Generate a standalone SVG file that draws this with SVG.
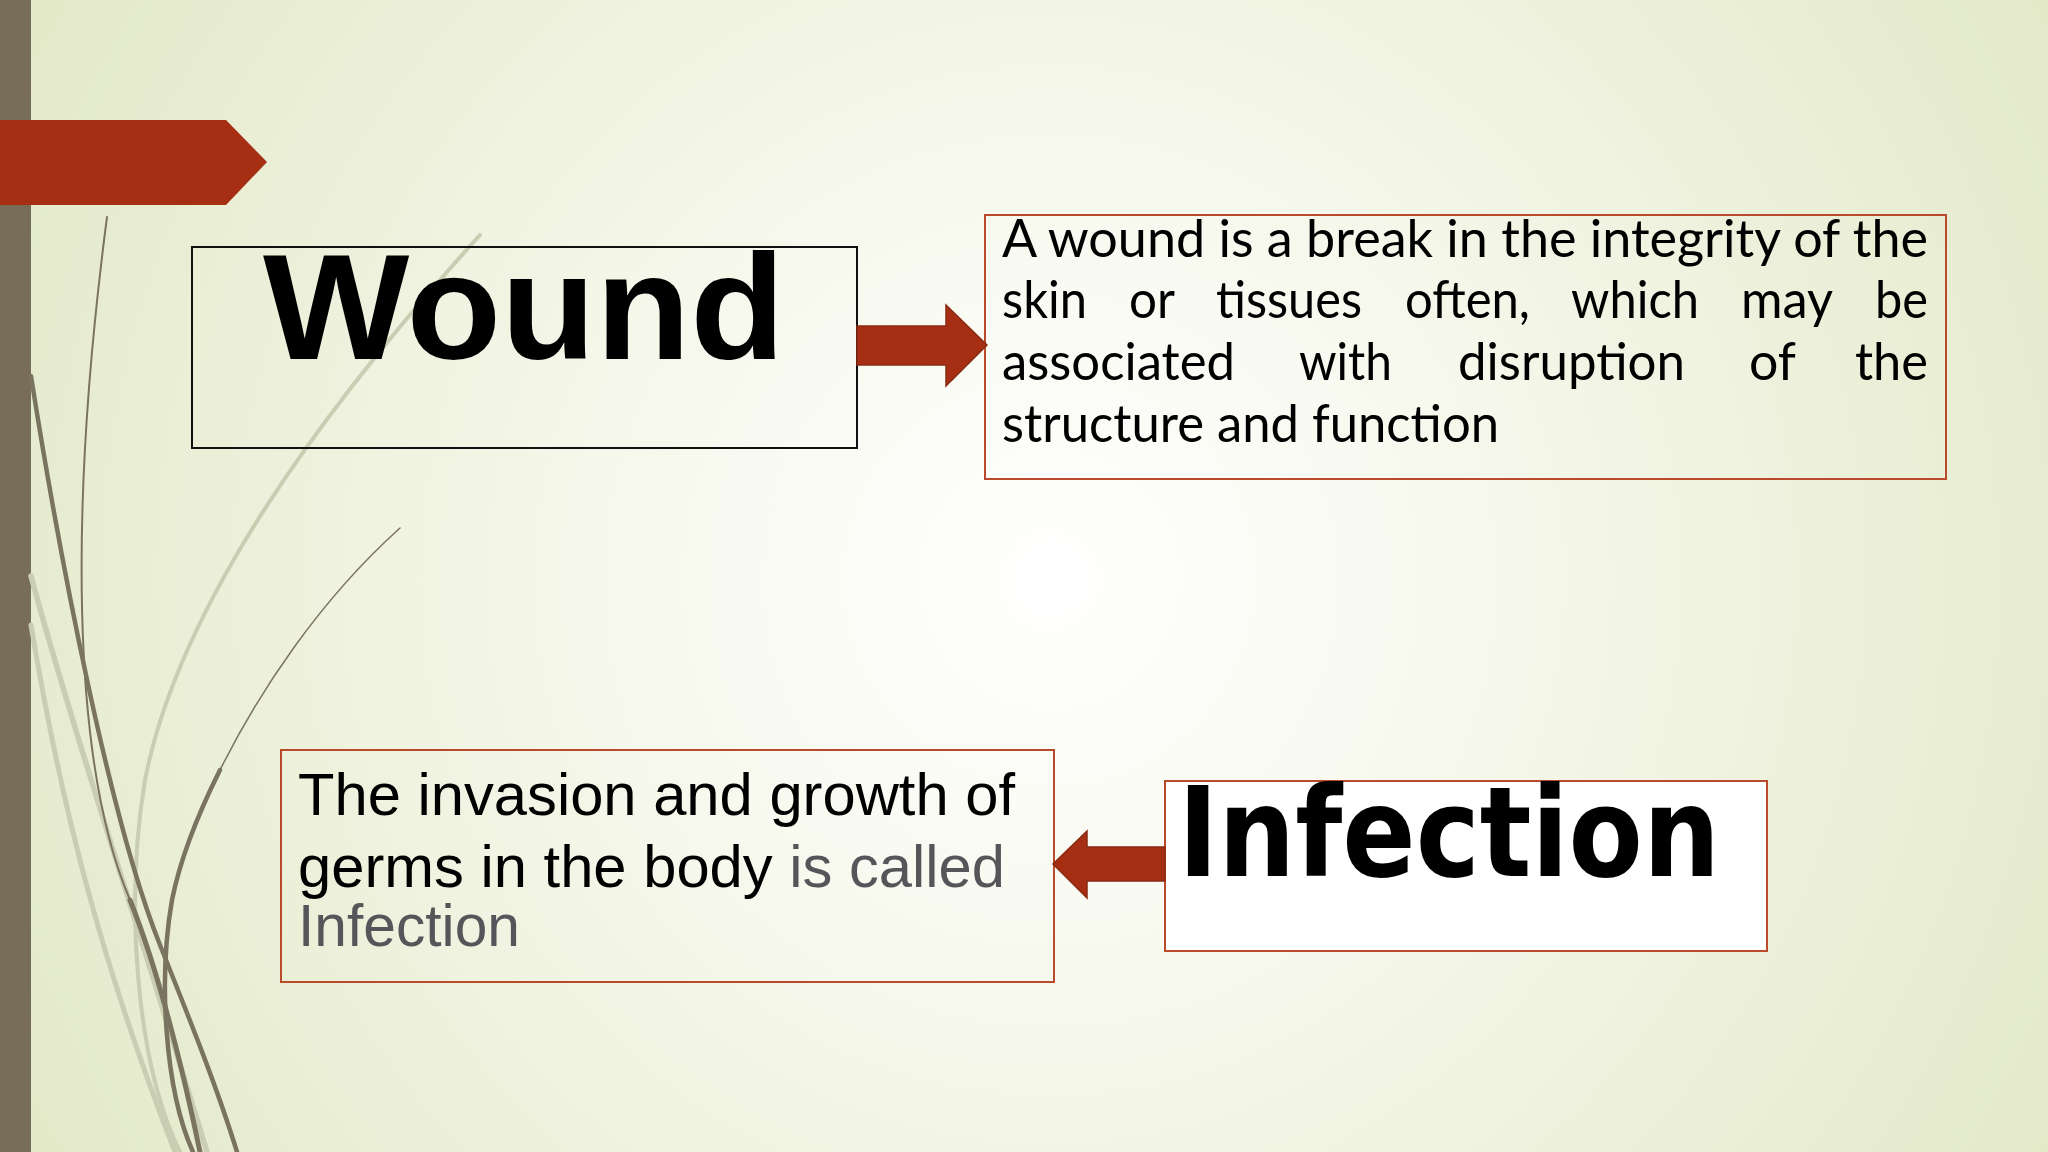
<svg xmlns="http://www.w3.org/2000/svg" width="2048" height="1152" viewBox="0 0 2048 1152">
<defs>
<radialGradient id="bg" gradientUnits="userSpaceOnUse" cx="1050" cy="580" r="1250">
<stop offset="0" stop-color="#ffffff"/>
<stop offset="0.35" stop-color="#f6f8ec"/>
<stop offset="1" stop-color="#e0e7c4"/>
</radialGradient>
<style>
.dark{fill:none;stroke:#7a7360;stroke-linecap:round}
.light{fill:none;stroke:#c9cdb2;stroke-linecap:round}
.arrow{fill:#a52e13;stroke:#8a2a12;stroke-width:1.5}
.rbox{fill:none;stroke:#b94a2b;stroke-width:2}
.def{font-family:Lato,"Liberation Sans",sans-serif;font-size:52px;fill:#000}
.body{font-family:"Liberation Sans",Arial,sans-serif;font-size:59px;fill:#000}
.gray{fill:#56555a}
</style>
</defs>
<rect width="2048" height="1152" fill="url(#bg)"/>
<rect x="0" y="0" width="31" height="1152" fill="#776d59"/>
<g id="decor">
<path class="light" stroke-width="4" d="M480,235 C330,400 180,600 145,780 C125,900 135,1060 180,1152"/>
<path class="light" stroke-width="5.5" d="M31,576 C70,720 130,900 207,1152"/>
<path class="light" stroke-width="5" d="M31,625 C60,800 100,960 175,1152"/>
<path class="dark" stroke-width="2" d="M107,217 C70,500 70,760 130,900"/>
<path class="dark" stroke-width="5" d="M130,900 C160,975 185,1080 200,1152"/>
<path class="dark" stroke-width="4.5" d="M31,376 C60,560 110,820 160,945 C190,1020 218,1090 237,1152"/>
<path class="dark" stroke-width="1.5" d="M400,528 C320,600 260,690 220,770"/>
<path class="dark" stroke-width="4.5" d="M220,770 C195,820 180,860 172,900 C158,980 165,1090 193,1152"/>
</g>
<polygon fill="#a52e13" points="0,120 226,120 267,162 226,205 0,205"/>
<g id="wound">
<rect x="192" y="247" width="665" height="201" fill="none" stroke="#111" stroke-width="2"/>
<text x="263" y="359" font-family="'Liberation Sans',Arial,sans-serif" font-weight="bold" font-size="151" textLength="522" lengthAdjust="spacingAndGlyphs">Wound</text>
</g>
<g id="definition">
<rect class="rbox" x="985" y="215" width="961" height="264"/>
<text class="def" x="1002" y="257" textLength="926" lengthAdjust="spacingAndGlyphs">A wound is a break in the integrity of the</text>
<text class="def" y="318"><tspan x="1002" textLength="85" lengthAdjust="spacingAndGlyphs">skin</tspan><tspan x="1129" textLength="46" lengthAdjust="spacingAndGlyphs">or</tspan><tspan x="1216" textLength="146" lengthAdjust="spacingAndGlyphs">tissues</tspan><tspan x="1405" textLength="125" lengthAdjust="spacingAndGlyphs">often,</tspan><tspan x="1571" textLength="128" lengthAdjust="spacingAndGlyphs">which</tspan><tspan x="1741" textLength="92" lengthAdjust="spacingAndGlyphs">may</tspan><tspan x="1875" textLength="53" lengthAdjust="spacingAndGlyphs">be</tspan></text>
<text class="def" y="380"><tspan x="1002" textLength="233" lengthAdjust="spacingAndGlyphs">associated</tspan><tspan x="1299" textLength="93" lengthAdjust="spacingAndGlyphs">with</tspan><tspan x="1458" textLength="227" lengthAdjust="spacingAndGlyphs">disruption</tspan><tspan x="1749" textLength="47" lengthAdjust="spacingAndGlyphs">of</tspan><tspan x="1855" textLength="73" lengthAdjust="spacingAndGlyphs">the</tspan></text>
<text class="def" x="1002" y="442" textLength="497" lengthAdjust="spacingAndGlyphs">structure and function</text>
</g>
<g id="invasion">
<rect class="rbox" x="281" y="750" width="773" height="232"/>
<text class="body" x="298" y="815" textLength="717" lengthAdjust="spacingAndGlyphs">The invasion and growth of</text>
<text class="body" x="298" y="887" textLength="707" lengthAdjust="spacingAndGlyphs">germs in the body <tspan class="gray">is called</tspan></text>
<text class="body gray" x="298" y="946" textLength="222" lengthAdjust="spacingAndGlyphs">Infection</text>
</g>
<g id="infection">
<rect x="1165" y="781" width="602" height="170" fill="#ffffff" stroke="#b94a2b" stroke-width="2"/>
<text x="1178" y="876" font-family="'DejaVu Sans Condensed','DejaVu Sans',Verdana,sans-serif" font-weight="bold" font-size="124" textLength="542" lengthAdjust="spacingAndGlyphs">Infection</text>
</g>
<g id="connectors">
<polygon class="arrow" points="857,326 946,326 946,305 987,345 946,386 946,365 857,365"/>
<polygon class="arrow" points="1165,847 1087,847 1087,831 1053,864 1087,898 1087,881 1165,881"/>
</g>
</svg>
